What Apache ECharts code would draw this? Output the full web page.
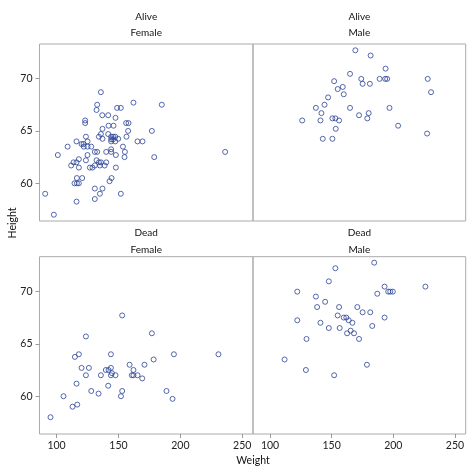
<!DOCTYPE html>
<html>
<head>
<meta charset="utf-8">
<script src="https://cdn.jsdelivr.net/npm/echarts@6/dist/echarts.min.js"></script>
<style>html,body{margin:0;padding:0;background:#fff}#c{width:474px;height:474px}</style>
</head>
<body>
<div id="c"></div>
<script>
// [Weight, Height] pairs per panel
var aliveFemale = [
[90.8,59.0],[97.8,57.0],[101,62.7],[108.9,63.5],[111.8,61.7],[113.7,62.0],[116.1,64.0],[116.1,62.0],
[118,62.3],[118,61.5],[116.4,60.5],[114.5,60.0],[116.4,60.0],[118,60.0],[120.7,60.5],[116.1,58.25],
[120.2,63.75],[121.8,63.75],[122,63.5],[123.7,64.45],[125,64.0],[123.1,66.0],[123.1,65.75],[125,63.5],
[128,63.5],[123.7,62.2],[125,62.7],[126.9,61.5],[129,61.5],[130.9,63.0],[132.8,63.0],[130.9,61.7],
[132.3,62.2],[134.2,62.0],[135,61.7],[135.8,62.0],[138.8,61.7],[140.1,62.0],[130.9,59.5],[135,59.0],
[137.1,59.5],[130.9,58.5],[132.3,67.0],[132.8,67.5],[135.8,68.7],[136.9,66.5],[137.1,65.2],[134.2,64.45],
[135.8,64.7],[137.1,64.25],[141.7,66.5],[142,65.5],[141.7,64.7],[140.1,63.0],[144.1,64.45],[144.1,64.2],
[144.1,64.0],[145.7,64.45],[145.7,64.2],[147.4,64.45],[147.4,64.0],[149.8,64.25],[146,65.5],[147.6,66.25],
[148.9,67.2],[151.9,67.2],[144.1,63.25],[144.1,63.0],[147.9,62.7],[147.9,61.5],[144.4,60.5],[142.8,60.2],
[151.9,59.0],[153.6,63.5],[155.2,63.0],[154.9,62.5],[156.5,64.45],[157.8,65.0],[156.2,65.75],[158.1,65.75],
[162.1,67.7],[165.4,64.0],[169.4,64.0],[177,65.0],[178.9,62.5],[185,67.5],[236.2,63.0]
];
var aliveMale = [
[169.2,72.7],[181.6,72.2],[193.7,70.95],[164.9,70.45],[174,69.97],[188.9,69.97],[193.4,69.97],[195,69.97],
[227.9,69.97],[152,69.75],[175.1,69.5],[181,69.5],[159,69.2],[154.9,69.0],[159.8,68.5],[230.6,68.7],
[147.1,68.2],[144.2,67.5],[137.2,67.2],[141.7,66.7],[164.9,67.2],[196.9,67.2],[126.1,66.0],[140.9,66.0],
[150.6,66.2],[153,66.2],[156,66.0],[172.2,66.5],[180,66.7],[178.9,66.2],[153.3,65.2],[203.9,65.5],
[227.4,64.75],[142.8,64.25],[150.6,64.25]
];
var deadFemale = [
[95.1,58.0],[105.6,60.0],[112.9,59.0],[116.7,59.2],[116.1,61.2],[114.8,63.75],[118,64.0],[120.2,62.7],
[123.7,62.0],[123.7,65.7],[126.1,62.7],[128,60.5],[133.9,60.25],[135.8,62.0],[139.8,62.5],[142,62.5],
[143.9,62.7],[143.9,64.0],[144.7,62.2],[143.9,62.0],[147.6,62.0],[141.7,61.0],[152,60.0],[153,60.5],
[153,67.7],[159,63.0],[162.1,62.5],[160.8,62.0],[162.1,62.0],[165.4,62.0],[169.2,61.7],[171,63.0],
[177,66.0],[178.4,63.5],[188.8,60.5],[193.7,59.75],[194.8,64.0],[230.8,64.0]
];
var deadMale = [
[184.5,72.73],[153,72.2],[147.7,70.95],[122.1,69.97],[137.2,69.5],[144.7,69.0],[138.2,68.5],[156,68.5],
[170.8,68.5],[175.1,68.0],[181.3,68.0],[192.9,70.45],[187,69.77],[195.9,69.97],[197.5,69.97],[199.6,69.97],
[226,70.45],[192.9,67.5],[154.9,67.7],[159.8,67.5],[161.9,67.5],[163.8,67.24],[166.8,67.0],[122.1,67.24],
[140.9,67.0],[147.7,66.5],[156.5,66.5],[182.9,66.7],[165.4,66.25],[162.5,66.0],[168.1,66.0],[129.6,65.46],
[172.2,65.46],[111.8,63.5],[178.6,63.0],[129.1,62.5],[152,62.0]
];
var xTicks = [100, 150, 200, 250];
var yTicks = [60, 65, 70];
var statusLabels = ['Alive', 'Alive', 'Dead', 'Dead'];
var sexLabels = ['Female', 'Male', 'Female', 'Male'];

var FONT = 'Lato';
var grids = [
  {left: 39.5, top: 44, width: 213.5, height: 177},
  {left: 253, top: 44, width: 212.7, height: 177},
  {left: 39.5, top: 256.7, width: 213.5, height: 177.3},
  {left: 253, top: 256.7, width: 212.7, height: 177.3}
];
var panels = [aliveFemale, aliveMale, deadFemale, deadMale];
var xAxes = [], yAxes = [], series = [], graphics = [];
grids.forEach(function (g, i) {
  g.show = true; g.borderColor = '#ababab'; g.borderWidth = 1; g.containLabel = false;
  var bottomRow = i >= 2, leftCol = (i % 2) === 0;
  xAxes.push({
    type: 'value', gridIndex: i, min: 86.2, max: 258.7,
    axisLine: {show: false}, splitLine: {show: false},
    axisTick: {show: bottomRow, length: 4, lineStyle: {color: '#9a9a9a'}, customValues: xTicks},
    axisLabel: {show: bottomRow, margin: 6, color: '#222', fontFamily: FONT, fontSize: 10.5, customValues: xTicks}
  });
  yAxes.push({
    type: 'value', gridIndex: i, min: 56.4, max: 73.3,
    axisLine: {show: false}, splitLine: {show: false},
    axisTick: {show: leftCol, length: 4, lineStyle: {color: '#9a9a9a'}, customValues: yTicks},
    axisLabel: {show: leftCol, margin: 7, color: '#222', fontFamily: FONT, fontSize: 10.5, customValues: yTicks}
  });
  series.push({
    type: 'scatter', xAxisIndex: i, yAxisIndex: i, data: panels[i],
    symbol: 'circle', symbolSize: 5,
    itemStyle: {color: 'rgba(255,255,255,0)', borderColor: '#2c4396', borderWidth: 1}
  });
  var cx = g.left + g.width / 2;
  var top = bottomRow ? 233 : 16.5;
  graphics.push({type: 'text', x: cx, y: top, style: {text: statusLabels[i], align: 'center', verticalAlign: 'middle', fill: '#111', font: '10px ' + FONT}});
  graphics.push({type: 'text', x: cx, y: top + 16.5, style: {text: sexLabels[i], align: 'center', verticalAlign: 'middle', fill: '#111', font: '10px ' + FONT}});
});
graphics.push({type: 'text', x: 253, y: 461, style: {text: 'Weight', align: 'center', verticalAlign: 'middle', fill: '#111', font: '10.5px ' + FONT}});
graphics.push({type: 'text', x: 13, y: 223, rotation: Math.PI / 2, style: {text: 'Height', align: 'center', verticalAlign: 'middle', fill: '#111', font: '10.5px ' + FONT}});

var chart = echarts.init(document.getElementById('c'), null, {renderer: 'canvas'});
chart.setOption({
  animation: false,
  backgroundColor: '#fff',
  grid: grids, xAxis: xAxes, yAxis: yAxes, series: series, graphic: graphics
});
</script>
</body>
</html>
